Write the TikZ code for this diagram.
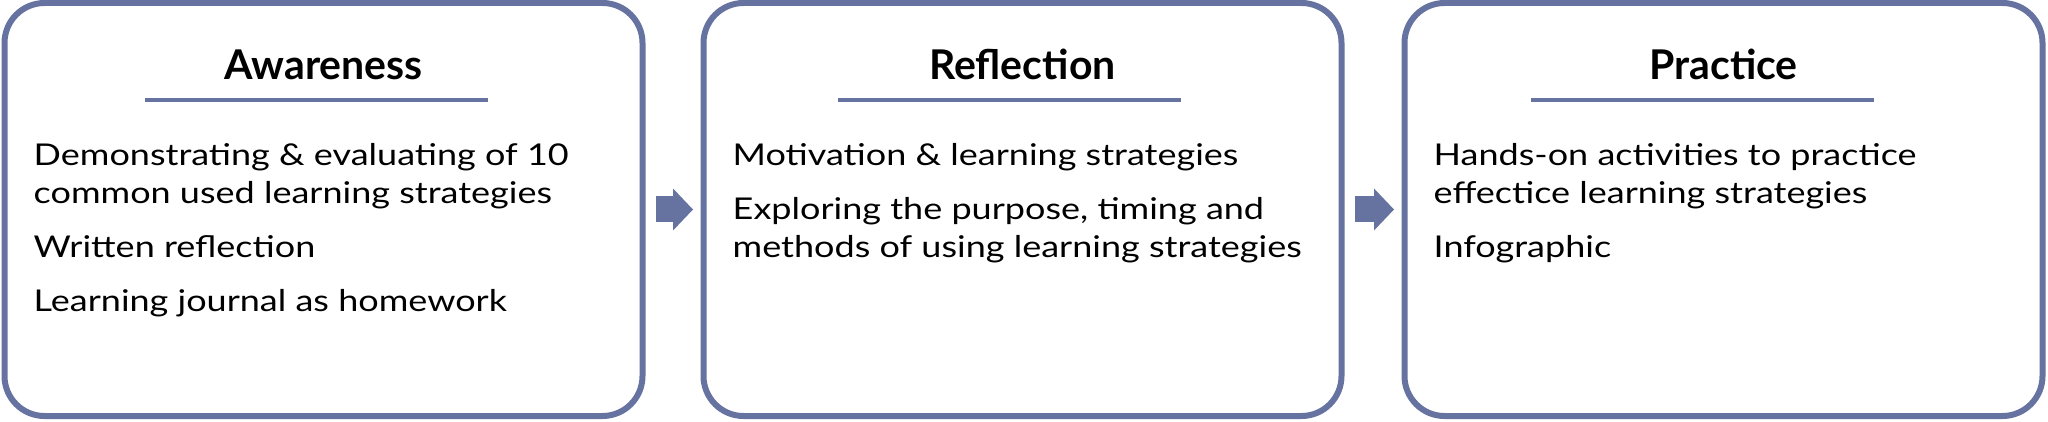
\documentclass[tikz,border=0pt]{standalone}
\usepackage{fontspec}
\setmainfont{Lato}
\newfontfamily\bodyfont[FakeStretch=1.2]{Lato}
\usetikzlibrary{positioning,arrows.meta}
\definecolor{frameblue}{RGB}{102,114,160}
\begin{document}
\begin{tikzpicture}[x=1pt, y=1pt]
                \tikzset{ phase/.style={rectangle,draw=frameblue,line width=6pt,rounded corners=40pt,minimum width=638pt,minimum height=413pt,outer sep=0pt,inner sep=0pt},
                        phasetitle/.style={anchor=base,inner sep=0pt,font=\fontsize{41}{48}\selectfont\bfseries},
                        phasetext/.style={anchor=north west,align=left,inner sep=0pt,font=\bodyfont\fontsize{30}{38}\selectfont,execute at begin node=\strut},
                        titlerule/.style={draw=frameblue,line width=4.5pt},
                        steparrow/.style={draw=frameblue,line width=26pt,-{Triangle[length=20pt,width=42pt,line width=0pt]},shorten <=13.5pt,shorten >=10.5pt}}
                \useasboundingbox (0,0) rectangle (2048,-422);
                \node[phase] (aware) at (323.5,-209.5) {};
                \node[phase, right=61pt of aware] (refl) {};
                \node[phase, right=63pt of refl] (prac) {};

                % Titres
                \node[phasetitle] (awaretitle) at ([yshift=-77pt]aware.north) {Awareness};
                \node[phasetitle] (refltitle) at ([yshift=-77pt]refl.north) {Reflection};
                \node[phasetitle] (practitle) at ([yshift=-77pt]prac.north) {Practice};
                \draw[titlerule] ([xshift=-178.5pt,yshift=-97pt]aware.north) -- ++(343,0);
                \draw[titlerule] ([xshift=-184.5pt,yshift=-97pt]refl.north) -- ++(343,0);
                \draw[titlerule] ([xshift=-192.5pt,yshift=-97pt]prac.north) -- ++(343,0);

                % Contenu
                \node[phasetext] (awaretext) at ([xshift=29pt,yshift=-140.5pt]aware.north west) {Demonstrating \& evaluating of 10\\common used learning strategies\\[16pt]Written reflection\\[16pt]Learning journal as homework};
                \node[phasetext] (refltext) at ([xshift=29pt,yshift=-140.5pt]refl.north west) {Motivation \& learning strategies\\[16pt]Exploring the purpose, timing and\\methods of using learning strategies};
                \node[phasetext] (practext) at ([xshift=29pt,yshift=-140.5pt]prac.north west) {Hands-on activities to practice\\effectice learning strategies\\[16pt]Infographic};

                % Flèches
                \draw[steparrow] (aware) -- (refl);
                \draw[steparrow] (refl) -- (prac);
            \end{tikzpicture}
\end{document}
